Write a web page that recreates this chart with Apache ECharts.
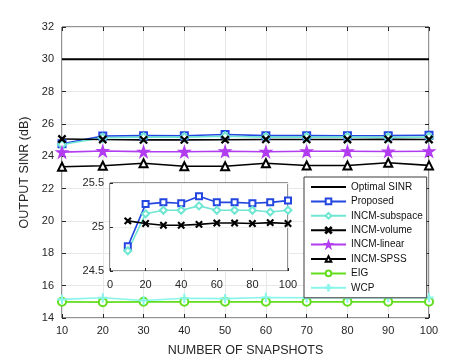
<!DOCTYPE html>
<html><head><meta charset="utf-8">
<script src="https://cdn.jsdelivr.net/npm/echarts@6/dist/echarts.min.js"></script>
<style>html,body{margin:0;padding:0;background:#fff}#c{width:474px;height:362px}</style>
</head><body><div id="c"></div>
<script>
const snapshots = [10, 20, 30, 40, 50, 60, 70, 80, 90, 100];
const optimalSINR = [30, 30, 30, 30, 30, 30, 30, 30, 30, 30];
const proposed = [24.78, 25.26, 25.28, 25.27, 25.35, 25.28, 25.28, 25.27, 25.28, 25.30];
const incmSubspace = [24.73, 25.15, 25.19, 25.19, 25.24, 25.19, 25.19, 25.19, 25.17, 25.19];
const incmVolume = [25.07, 25.04, 25.02, 25.02, 25.03, 25.045, 25.045, 25.04, 25.05, 25.04];
const incmLinear = [24.26, 24.33, 24.29, 24.28, 24.31, 24.28, 24.31, 24.31, 24.3, 24.31];
const incmSPSS = [23.36, 23.42, 23.57, 23.39, 23.39, 23.57, 23.43, 23.43, 23.6, 23.44];
const eig = [15.0, 14.98, 15.0, 15.0, 15.0, 15.0, 15.0, 15.0, 15.0, 15.0];
const wcp = [15.15, 15.25, 15.08, 15.22, 15.2, 15.27, 15.25, 15.25, 15.27, 15.26];
const mainXTicks = [10, 20, 30, 40, 50, 60, 70, 80, 90, 100];
const mainYTicks = [14, 16, 18, 20, 22, 24, 26, 28, 30, 32];
const insetXTicks = [0, 20, 40, 60, 80, 100];
const insetYTicks = [24.5, 25, 25.5];

const font = '"Liberation Sans", Arial, Helvetica, sans-serif';
const axisCol = '#262626';
const pair = arr => snapshots.map((x, i) => [x, arr[i]]);
const xSym = 'path://M0,1 L1,0 L5,4 L9,0 L10,1 L6,5 L10,9 L9,10 L5,6 L1,10 L0,9 L4,5 Z';
const starSym = 'path://M5,0 L6.2,3.6 L10,3.6 L6.9,5.8 L8.1,9.5 L5,7.2 L1.9,9.5 L3.1,5.8 L0,3.6 L3.8,3.6 Z';
const plusSym = 'path://M4.5,0 H5.5 V4.5 H10 V5.5 H5.5 V10 H4.5 V5.5 H0 V4.5 H4.5 Z';

const C = {
  opt: '#000000', prop: '#2346e0', sub: '#6fe6d2', vol: '#000000',
  lin: '#b23cf0', spss: '#000000', eig: '#63dd1f', wcp: '#8af5ea'
};

function mk(name, data, color, symbol, size, xi, yi, z, extra) {
  return Object.assign({
    name, type: 'line', data: pair(data), xAxisIndex: xi, yAxisIndex: yi,
    symbol, symbolSize: size, showSymbol: true,
    lineStyle: { color, width: 1.6 }, itemStyle: { color, borderColor: color, borderWidth: 1.3 },
    z, animation: false, silent: true
  }, extra || {});
}

const chart = echarts.init(document.getElementById('c'), null, { renderer: 'canvas' });
const tickLab = { color: axisCol, fontFamily: font, fontSize: 11 };
chart.setOption({
  backgroundColor: '#ffffff',
  animation: false,
  textStyle: { fontFamily: font },
  grid: [
    { left: 62, right: 45, top: 27, bottom: 39, show: true, borderColor: axisCol, borderWidth: 1, backgroundColor: 'transparent', z: 0 },
    { left: 110, top: 183, width: 178, height: 88, show: true, borderColor: axisCol, borderWidth: 1, backgroundColor: '#ffffff', z: 5 }
  ],
  xAxis: [
    { type: 'value', gridIndex: 0, min: 10, max: 100, interval: 10, position: 'bottom',
      name: 'NUMBER OF SNAPSHOTS', nameLocation: 'middle', nameGap: 26,
      nameTextStyle: { color: axisCol, fontSize: 12.5, fontFamily: font },
      axisLine: { show: false }, axisTick: { inside: true, length: 4, lineStyle: { color: axisCol } },
      axisLabel: Object.assign({ margin: 7 }, tickLab),
      splitLine: { show: true, lineStyle: { color: '#e8e8e8', width: 1 } } },
    { type: 'value', gridIndex: 1, min: 0, max: 100, interval: 20, position: 'bottom', z: 6,
      axisLine: { show: false }, axisTick: { inside: true, length: 3, lineStyle: { color: axisCol } },
      axisLabel: Object.assign({ margin: 8 }, tickLab),
      splitLine: { show: true, lineStyle: { color: '#f0f0f0', width: 1 } } },
    { type: 'value', gridIndex: 0, min: 10, max: 100, interval: 10, position: 'top',
      axisLine: { show: false }, axisTick: { inside: true, length: 4, lineStyle: { color: axisCol } },
      axisLabel: { show: false }, splitLine: { show: false } }
  ],
  yAxis: [
    { type: 'value', gridIndex: 0, min: 14, max: 32, interval: 2, position: 'left',
      name: 'OUTPUT SINR (dB)', nameLocation: 'middle', nameGap: 21,
      nameTextStyle: { color: axisCol, fontSize: 12.5, fontFamily: font },
      axisLine: { show: false }, axisTick: { inside: true, length: 4, lineStyle: { color: axisCol } },
      axisLabel: Object.assign({ margin: 8 }, tickLab),
      splitLine: { show: true, lineStyle: { color: '#e8e8e8', width: 1 } } },
    { type: 'value', gridIndex: 1, min: 24.5, max: 25.5, interval: 0.5, position: 'left', z: 6,
      axisLine: { show: false }, axisTick: { inside: true, length: 3, lineStyle: { color: axisCol } },
      axisLabel: Object.assign({ margin: 6, formatter: v => String(v) }, tickLab),
      splitLine: { show: true, lineStyle: { color: '#f0f0f0', width: 1 } } },
    { type: 'value', gridIndex: 0, min: 14, max: 32, interval: 2, position: 'right',
      axisLine: { show: false }, axisTick: { inside: true, length: 4, lineStyle: { color: axisCol } },
      axisLabel: { show: false }, splitLine: { show: false } }
  ],
  legend: {
    orient: 'vertical', left: 304, top: 177, z: 20,
    padding: [5, 4, 5, 6], itemGap: 4.4, itemWidth: 35, itemHeight: 7,
    backgroundColor: '#ffffff', borderColor: '#3a3a3a', borderWidth: 1,
    textStyle: { fontSize: 10, color: '#111', fontFamily: font },
    data: [
      { name: 'Optimal SINR', itemStyle: { opacity: 0 } },
      'Proposed', 'INCM-subspace', 'INCM-volume', 'INCM-linear', 'INCM-SPSS', 'EIG', 'WCP'
    ]
  },
  series: [
    mk('Optimal SINR', optimalSINR, C.opt, 'circle', 0, 0, 0, 2, { lineStyle: { color: C.opt, width: 2 } }),
    mk('Proposed', proposed, C.prop, 'emptyRect', 7, 0, 0, 2),
    mk('INCM-subspace', incmSubspace, C.sub, 'emptyDiamond', 8, 0, 0, 2),
    mk('INCM-volume', incmVolume, C.vol, xSym, 7, 0, 0, 2),
    mk('INCM-linear', incmLinear, C.lin, starSym, 11, 0, 0, 2),
    mk('INCM-SPSS', incmSPSS, C.spss, 'emptyTriangle', 8, 0, 0, 2),
    mk('EIG', eig, C.eig, 'emptyCircle', 8, 0, 0, 2),
    mk('WCP', wcp, C.wcp, plusSym, 8, 0, 0, 2),
    mk('Proposed', proposed, C.prop, 'emptyRect', 6, 1, 1, 8),
    mk('INCM-subspace', incmSubspace, C.sub, 'emptyDiamond', 7, 1, 1, 8),
    mk('INCM-volume', incmVolume, C.vol, xSym, 6, 1, 1, 8)
  ]
});
</script></body></html>
